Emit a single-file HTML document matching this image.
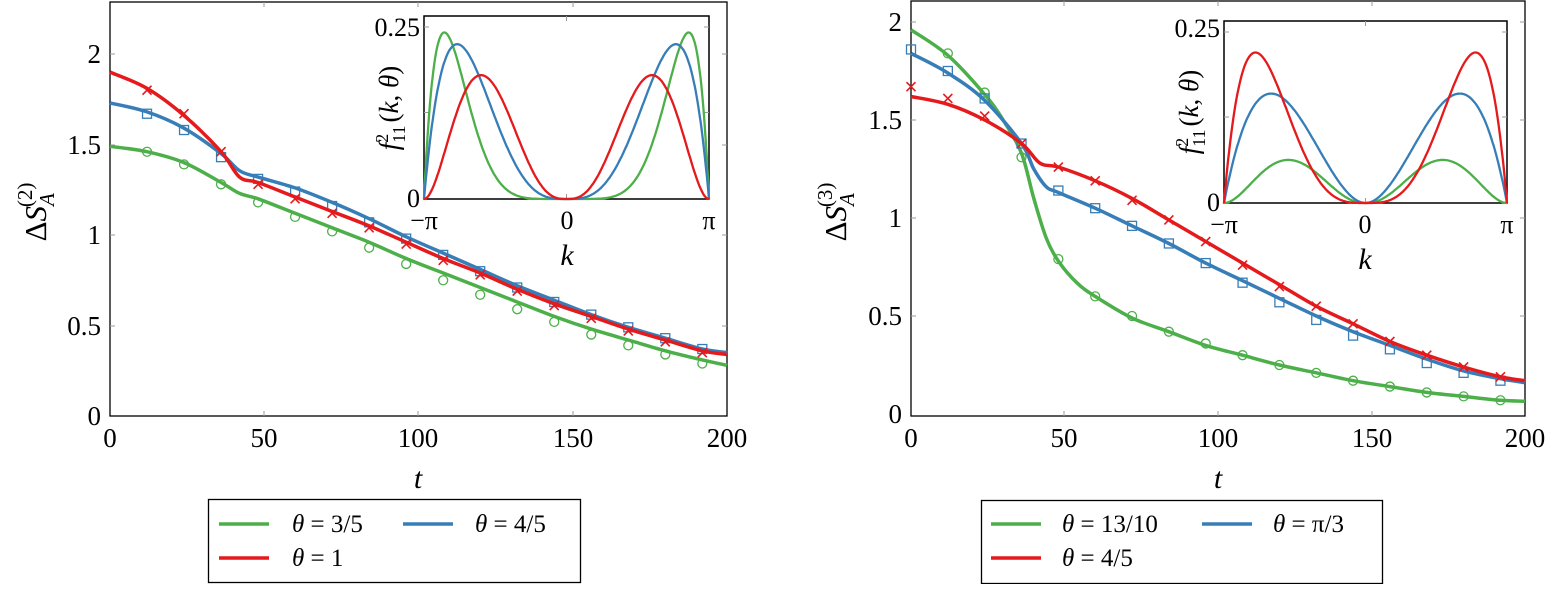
<!DOCTYPE html>
<html><head><meta charset="utf-8"><style>
html,body{margin:0;padding:0;background:#fff;}
svg, svg text{font-family:"Liberation Serif","DejaVu Serif",serif;}
</style></head><body>
<svg id="s" width="1550" height="584" viewBox="0 0 1550 584" xmlns="http://www.w3.org/2000/svg" font-family="Liberation Serif, serif">
<g font-size="27" fill="#000">
<g text-anchor="end">
<text x="101" y="425">0</text><text x="101" y="335">0.5</text><text x="101" y="244">1</text><text x="101" y="154">1.5</text><text x="101" y="63">2</text>
<text x="902" y="423">0</text><text x="902" y="325">0.5</text><text x="902" y="227">1</text><text x="902" y="129">1.5</text><text x="902" y="31">2</text>
</g>
<g text-anchor="middle">
<text x="110" y="447">0</text><text x="264" y="447">50</text><text x="418" y="447">100</text><text x="573" y="447">150</text><text x="727" y="447">200</text>
<text x="911" y="447">0</text><text x="1064" y="447">50</text><text x="1218" y="447">100</text><text x="1372" y="447">150</text><text x="1525" y="447">200</text>
<text x="418" y="488" font-style="italic" font-size="30">t</text>
<text x="1218" y="488" font-style="italic" font-size="30">t</text>
</g>
<text transform="translate(46,212) rotate(-90)" text-anchor="middle" font-size="31">Δ<tspan font-style="italic">S</tspan><tspan font-style="italic" font-size="21" dy="8">A</tspan><tspan font-size="21" dx="-14" dy="-22">(2)</tspan></text>
<text transform="translate(846,212) rotate(-90)" text-anchor="middle" font-size="31">Δ<tspan font-style="italic">S</tspan><tspan font-style="italic" font-size="21" dy="8">A</tspan><tspan font-size="21" dx="-14" dy="-22">(3)</tspan></text>
</g>
<g id="plots"></g>
<g font-size="25" font-style="italic">
<rect x="208.5" y="499.5" width="372" height="83" fill="none" stroke="#000" stroke-width="1.3"/>
<line x1="219" y1="524" x2="269" y2="524" stroke="#4daf4a" stroke-width="3.5"/>
<line x1="403" y1="524" x2="453" y2="524" stroke="#377eb8" stroke-width="3.5"/>
<line x1="219" y1="558" x2="269" y2="558" stroke="#e41a1c" stroke-width="3.5"/>
<text x="292" y="532">θ <tspan font-style="normal">= 3/5</tspan></text>
<text x="475" y="532">θ <tspan font-style="normal">= 4/5</tspan></text>
<text x="292" y="566">θ <tspan font-style="normal">= 1</tspan></text>
<rect x="981.5" y="500.5" width="401" height="83" fill="none" stroke="#000" stroke-width="1.3"/>
<line x1="991" y1="524" x2="1041" y2="524" stroke="#4daf4a" stroke-width="3.5"/>
<line x1="1202" y1="524" x2="1252" y2="524" stroke="#377eb8" stroke-width="3.5"/>
<line x1="991" y1="558" x2="1041" y2="558" stroke="#e41a1c" stroke-width="3.5"/>
<text x="1062" y="532">θ <tspan font-style="normal">= 13/10</tspan></text>
<text x="1273" y="532">θ <tspan font-style="normal">= π/3</tspan></text>
<text x="1062" y="566">θ <tspan font-style="normal">= 4/5</tspan></text>
</g>
<g font-size="26">
<text x="420" y="36" text-anchor="end">0.25</text><text x="420" y="207" text-anchor="end">0</text>
<text x="424" y="229" text-anchor="middle">−π</text><text x="567" y="229" text-anchor="middle">0</text><text x="709" y="229" text-anchor="middle">π</text>
<text x="567" y="265" text-anchor="middle" font-style="italic" font-size="30">k</text>
<text transform="translate(398,108) rotate(-90)" text-anchor="middle" font-size="27"><tspan font-style="italic">f</tspan><tspan font-size="18" dy="-10">2</tspan><tspan font-size="18" dx="-9" dy="17">11</tspan><tspan dx="3" dy="-7">(</tspan><tspan font-style="italic">k</tspan>, <tspan font-style="italic">θ</tspan>)</text>
<text x="1220" y="37" text-anchor="end">0.25</text><text x="1220" y="211" text-anchor="end">0</text>
<text x="1224" y="233" text-anchor="middle">−π</text><text x="1365" y="233" text-anchor="middle">0</text><text x="1507" y="233" text-anchor="middle">π</text>
<text x="1365" y="269" text-anchor="middle" font-style="italic" font-size="30">k</text>
<text transform="translate(1198,112) rotate(-90)" text-anchor="middle" font-size="27"><tspan font-style="italic">f</tspan><tspan font-size="18" dy="-10">2</tspan><tspan font-size="18" dx="-9" dy="17">11</tspan><tspan dx="3" dy="-7">(</tspan><tspan font-style="italic">k</tspan>, <tspan font-style="italic">θ</tspan>)</text>
</g>
</svg>
<script>
var NS="http://www.w3.org/2000/svg",P=document.getElementById("plots");
function el(t,a){var e=document.createElementNS(NS,t);for(var k in a)e.setAttribute(k,a[k]);P.appendChild(e);return e;}
var G="#4daf4a",B="#377eb8",R="#e41a1c";
function cr(pts){var d="M"+pts[0][0].toFixed(1)+","+pts[0][1].toFixed(1);
for(var i=0;i<pts.length-1;i++){var p0=pts[i-1]||pts[i],p1=pts[i],p2=pts[i+1],p3=pts[i+2]||p2;
d+="C"+(p1[0]+(p2[0]-p0[0])/6).toFixed(1)+","+(p1[1]+(p2[1]-p0[1])/6).toFixed(1)+" "+(p2[0]-(p3[0]-p1[0])/6).toFixed(1)+","+(p2[1]-(p3[1]-p1[1])/6).toFixed(1)+" "+p2[0].toFixed(1)+","+p2[1].toFixed(1);}
return d;}
function frame(x0,y0,x1,y1,xt,yt){
el("rect",{x:x0,y:y0,width:x1-x0,height:y1-y0,fill:"none",stroke:"#000","stroke-width":1.3});
xt.forEach(function(x){el("line",{x1:x,x2:x,y1:y1,y2:y1-5,stroke:"#999"});el("line",{x1:x,x2:x,y1:y0,y2:y0+5,stroke:"#999"});});
yt.forEach(function(y){el("line",{x1:x0,x2:x0+5,y1:y,y2:y,stroke:"#999"});el("line",{x1:x1,x2:x1-5,y1:y,y2:y,stroke:"#999"});});}
function mplot(X,Y,line,marks,col,type){
el("path",{d:cr(line.map(function(p){return[X(p[0]),Y(p[1])]})),fill:"none",stroke:col,"stroke-width":3.5});
marks.forEach(function(p){var x=X(p[0]),y=Y(p[1]);
if(type=="o")el("circle",{cx:x,cy:y,r:4.5,fill:"none",stroke:col,"stroke-width":1.3});
else if(type=="s")el("rect",{x:x-4.5,y:y-4.5,width:9,height:9,fill:"none",stroke:col,"stroke-width":1.3});
else{el("path",{d:"M"+(x-4.5)+","+(y-4.5)+"L"+(x+4.5)+","+(y+4.5)+"M"+(x-4.5)+","+(y+4.5)+"L"+(x+4.5)+","+(y-4.5),stroke:col,"stroke-width":1.6});}});}
function tm(v){return v.map(function(y,i){return[12*(i+1),y]});}
var LX=function(t){return 110+t*3.085},LY=function(v){return 416-v*181};
frame(110,2,727,416,[264,418,573],[326,235,145,54]);
mplot(LX,LY,[[0,1.49],[12,1.46],[24,1.40],[36,1.29],[42,1.23],[48,1.20],[60,1.12],[72,1.04],[84,0.96],[96,0.87],[108,0.79],[120,0.71],[132,0.63],[144,0.55],[156,0.48],[168,0.42],[180,0.36],[192,0.31],[200,0.28]],
tm([1.46,1.39,1.28,1.18,1.10,1.02,0.93,0.84,0.75,0.67,0.59,0.52,0.45,0.39,0.34,0.29]),G,"o");
mplot(LX,LY,[[0,1.73],[12,1.68],[24,1.59],[36,1.45],[42,1.355],[48,1.32],[60,1.26],[72,1.18],[84,1.09],[96,0.99],[108,0.90],[120,0.81],[132,0.72],[144,0.64],[156,0.56],[168,0.49],[180,0.43],[192,0.37],[200,0.35]],
tm([1.67,1.58,1.43,1.31,1.24,1.16,1.07,0.98,0.89,0.80,0.71,0.63,0.56,0.49,0.43,0.37]),B,"s");
mplot(LX,LY,[[0,1.90],[12,1.81],[24,1.66],[36,1.46],[42,1.32],[48,1.29],[60,1.21],[72,1.13],[84,1.05],[96,0.96],[108,0.87],[120,0.79],[132,0.70],[144,0.62],[156,0.55],[168,0.48],[180,0.42],[192,0.36],[200,0.34]],
tm([1.80,1.67,1.46,1.28,1.20,1.12,1.04,0.95,0.86,0.78,0.69,0.61,0.54,0.47,0.41,0.35]),R,"x");
var RX=function(t){return 911+t*3.07},RY=function(v){return 414-v*196};
frame(911,1,1525,416,[1064,1218,1372],[316,218,120,22]);
mplot(RX,RY,[[0,1.96],[12,1.83],[24,1.63],[30,1.50],[36,1.33],[40,1.10],[44,0.90],[48,0.78],[54,0.67],[60,0.60],[72,0.49],[84,0.42],[96,0.35],[108,0.30],[120,0.25],[132,0.21],[144,0.17],[156,0.14],[168,0.11],[180,0.09],[192,0.07],[200,0.065]],
tm([1.84,1.64,1.31,0.79,0.60,0.50,0.42,0.36,0.30,0.25,0.21,0.17,0.14,0.11,0.09,0.07]),G,"o");
mplot(RX,RY,[[0,1.84],[12,1.74],[24,1.60],[36,1.38],[40,1.25],[44,1.16],[48,1.13],[60,1.05],[72,0.96],[84,0.87],[96,0.77],[108,0.68],[120,0.59],[132,0.50],[144,0.42],[156,0.35],[168,0.28],[180,0.22],[192,0.18],[200,0.16]],
[[0,1.86]].concat(tm([1.75,1.61,1.38,1.14,1.05,0.96,0.87,0.77,0.67,0.57,0.48,0.40,0.33,0.26,0.21,0.17])),B,"s");
mplot(RX,RY,[[0,1.62],[12,1.58],[24,1.50],[36,1.38],[42,1.28],[48,1.26],[60,1.19],[72,1.10],[84,0.99],[96,0.88],[108,0.77],[120,0.66],[132,0.55],[144,0.46],[156,0.37],[168,0.30],[180,0.24],[192,0.19],[200,0.17]],
[[0,1.67]].concat(tm([1.61,1.52,1.38,1.26,1.19,1.09,0.99,0.88,0.76,0.65,0.55,0.46,0.37,0.30,0.24,0.19])),R,"x");
function inset(x0,x1,y0,y1,curves){
el("rect",{x:x0,y:y0,width:x1-x0,height:y1-y0,fill:"#fff",stroke:"#000","stroke-width":1.3});
var xc=(x0+x1)/2,ys=(y1-y0-11)/0.25;
frame(x0,y0,x1,y1,[xc],[(y0+y1)/2+5,y0+11]);
curves.forEach(function(c){var a=c[0],b=c[1],h=c[2],col=c[3],pk=a/(a+b),mx=Math.pow(pk,a)*Math.pow(1-pk,b),d="";
for(var i=0;i<=400;i++){var u=-1+i/200,x=Math.abs(u),f=h*Math.pow(x,a)*Math.pow(1-x,b)/mx;
d+=(i?"L":"M")+(xc+u*(x1-x0)/2).toFixed(1)+","+(y1-f*ys).toFixed(1);}
el("path",{d:d,fill:"none",stroke:col,"stroke-width":2.3});});}
inset(424,709,16,199,[[6,1,0.242,G],[3.3,1,0.225,B],[3,2,0.18,R]]);
inset(1224,1507,21,203,[[2.4,2,0.063,G],[2,1,0.16,B],[3.5,1,0.22,R]]);
</script>
</body></html>
